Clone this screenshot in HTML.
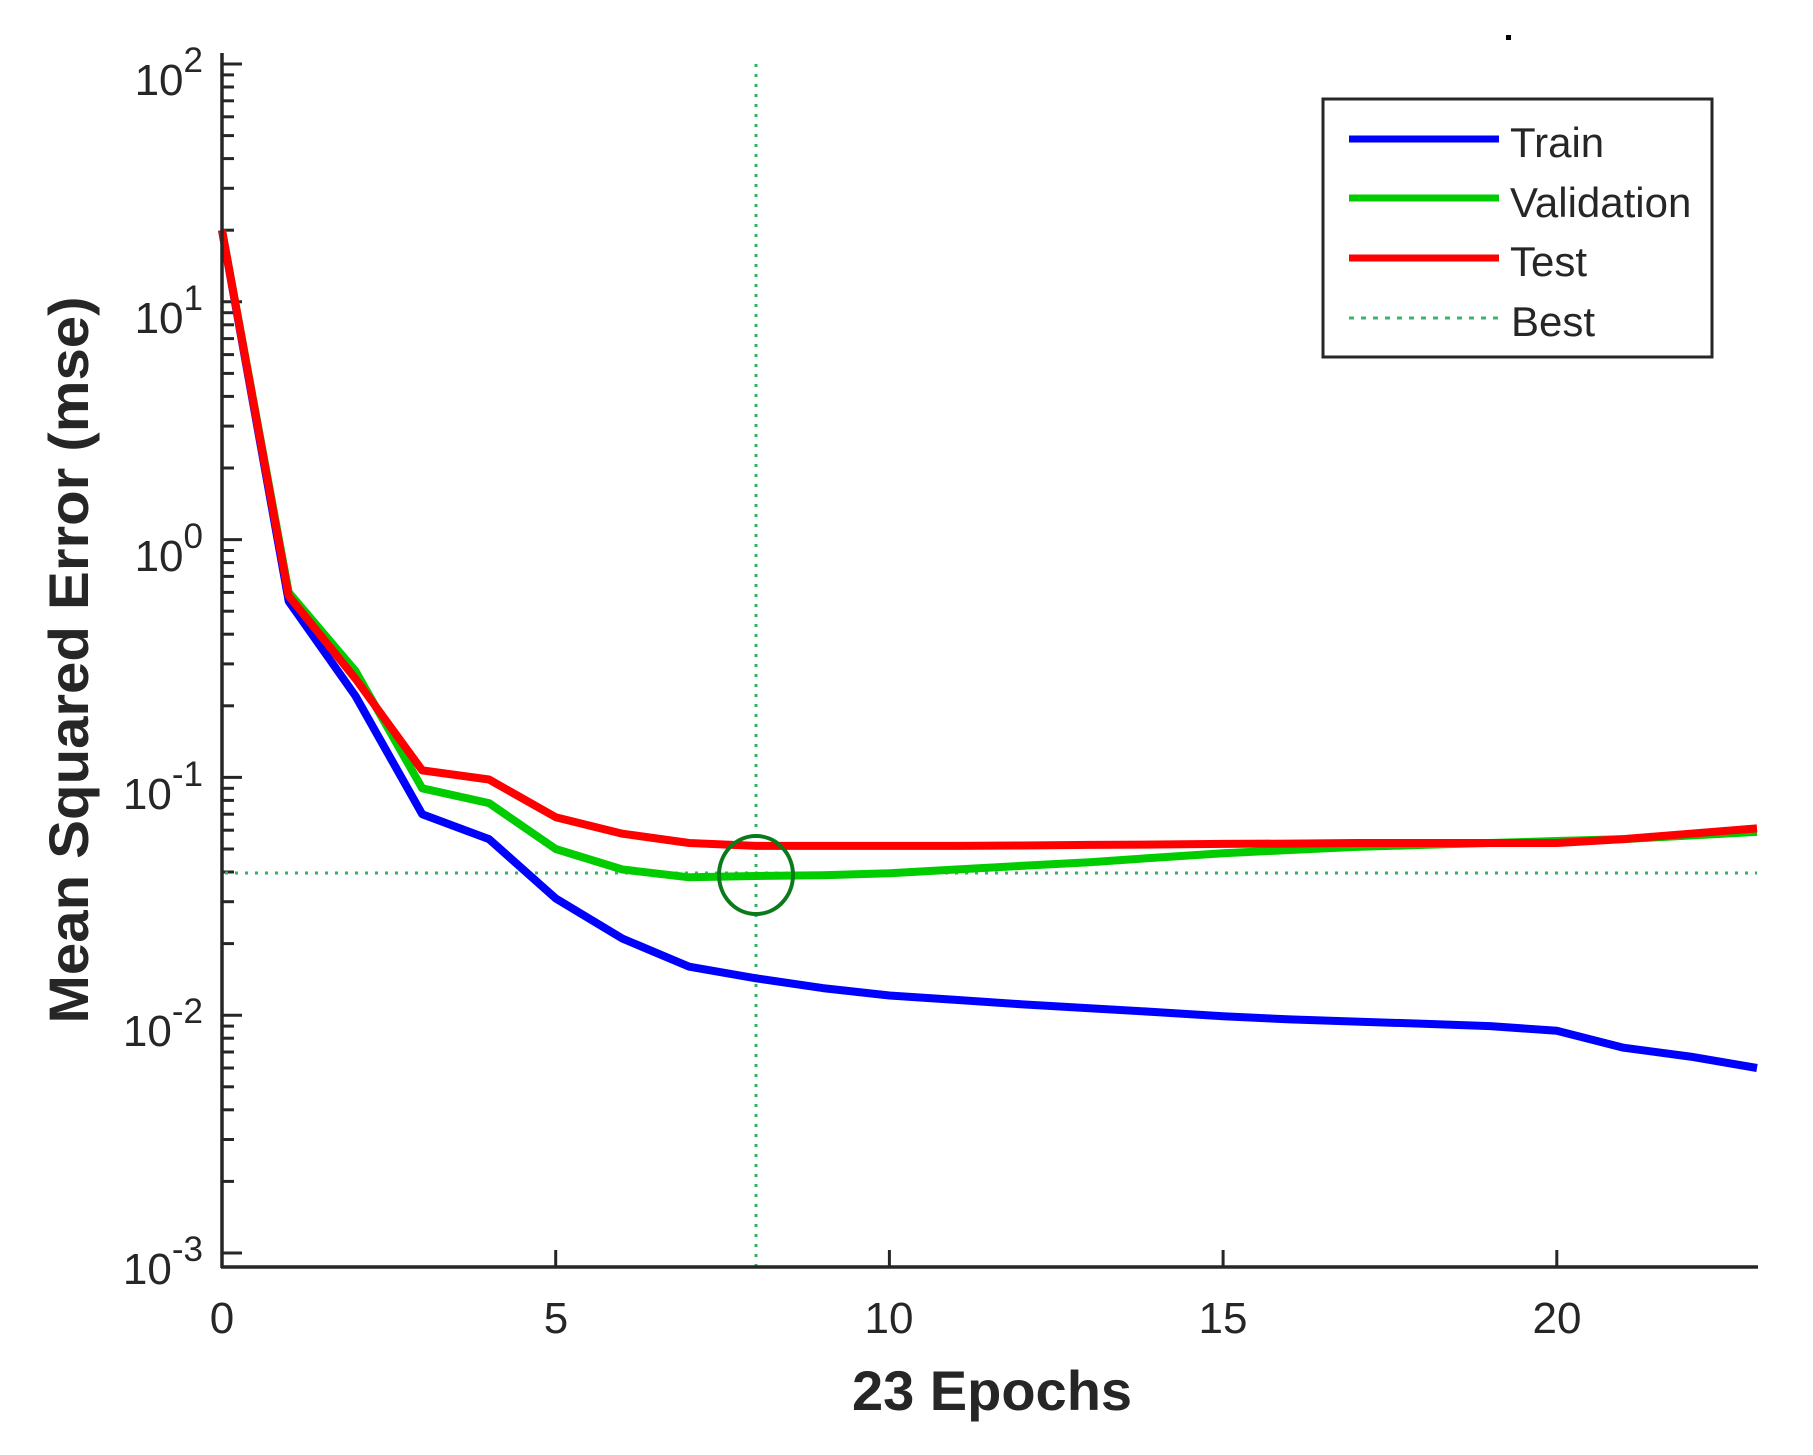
<!DOCTYPE html>
<html><head><meta charset="utf-8"><style>
html,body{margin:0;padding:0;background:#fff}
svg{display:block}
text{font-family:"Liberation Sans",Arial,sans-serif;fill:#262626}
</style></head><body>
<svg id="s" width="1813" height="1455" viewBox="0 0 1813 1455" xmlns="http://www.w3.org/2000/svg">
<rect width="1813" height="1455" fill="#fff"/>
<g id="ticks" stroke="#262626" stroke-width="3"></g>
<line x1="756" y1="64" x2="756" y2="1267" stroke="#2fb560" stroke-width="3" stroke-dasharray="3,7"/>
<line x1="225" y1="873" x2="1757" y2="873" stroke="#2fb560" stroke-width="3" stroke-dasharray="3,7"/>
<g id="lines" fill="none" stroke-width="8" stroke-linejoin="round"></g>
<ellipse cx="756" cy="875" rx="37" ry="39" fill="none" stroke="#0a7a1a" stroke-width="4"/>
<line x1="222" y1="53" x2="222" y2="1268" stroke="#262626" stroke-width="3.5"/>
<line x1="221" y1="1267" x2="1758" y2="1267" stroke="#262626" stroke-width="3.5"/>
<g font-size="44">
<text x="203" y="95" text-anchor="end">10<tspan font-size="35" dy="-23">2</tspan></text>
<text x="203" y="333" text-anchor="end">10<tspan font-size="35" dy="-23">1</tspan></text>
<text x="203" y="571" text-anchor="end">10<tspan font-size="35" dy="-23">0</tspan></text>
<text x="203" y="809" text-anchor="end">10<tspan font-size="35" dy="-23">-1</tspan></text>
<text x="203" y="1046" text-anchor="end">10<tspan font-size="35" dy="-23">-2</tspan></text>
<text x="203" y="1284" text-anchor="end">10<tspan font-size="35" dy="-23">-3</tspan></text>
</g>
<g font-size="44" text-anchor="middle">
<text x="222" y="1333">0</text>
<text x="556" y="1333">5</text>
<text x="889" y="1333">10</text>
<text x="1223" y="1333">15</text>
<text x="1557" y="1333">20</text>
</g>
<text x="992" y="1410" font-size="56" font-weight="bold" text-anchor="middle">23 Epochs</text>
<text transform="translate(88,660) rotate(-90)" font-size="56" font-weight="bold" text-anchor="middle" textLength="727" lengthAdjust="spacingAndGlyphs">Mean Squared Error  (mse)</text>
<rect x="1323" y="99" width="389" height="258" fill="#fff" stroke="#262626" stroke-width="3"/>
<line x1="1349" y1="139" x2="1499" y2="139" stroke="#0000ff" stroke-width="7"/>
<line x1="1349" y1="198" x2="1499" y2="198" stroke="#00cc00" stroke-width="7"/>
<line x1="1349" y1="258" x2="1499" y2="258" stroke="#ff0000" stroke-width="7"/>
<line x1="1349" y1="318" x2="1499" y2="318" stroke="#3cb371" stroke-width="3" stroke-dasharray="5,7"/>
<g font-size="42" style="fill:#111">
<text x="1510" y="157">Train</text>
<text x="1510" y="217">Validation</text>
<text x="1510" y="276">Test</text>
<text x="1511" y="336">Best</text>
</g>
<rect x="1506" y="35" width="5" height="5" fill="#000"/>
</svg>
<script>
(function(){
var X=function(e){return 222+e*66.74;};
var Y=function(v){return 1253-237.8*(Math.log10(v)+3);};
var t=document.getElementById('ticks'),h='';
for(var d=-3;d<=2;d++){
 for(var m=1;m<=9;m++){
  if(d==2&&m>1)break;
  var y=Y(m*Math.pow(10,d)),L=m==1?20:12;
  h+='<line x1="222" y1="'+y.toFixed(1)+'" x2="'+(222+L)+'" y2="'+y.toFixed(1)+'"/>';
 }
}
for(var e=0;e<=20;e+=5){h+='<line x1="'+X(e)+'" y1="1267" x2="'+X(e)+'" y2="1250"/>';}
t.innerHTML=h;
var tr=[20,0.55,0.22,0.07,0.055,0.031,0.021,0.016,0.0143,0.013,0.0121,0.0116,0.0111,0.0107,0.0103,0.0099,0.0096,0.0094,0.0092,0.009,0.0086,0.0073,0.0067,0.006];
var va=[20,0.6,0.28,0.09,0.078,0.05,0.041,0.038,0.0385,0.0388,0.0395,0.041,0.0425,0.044,0.046,0.048,0.0495,0.051,0.052,0.053,0.054,0.055,0.057,0.059];
var te=[20,0.58,0.26,0.107,0.098,0.068,0.058,0.053,0.0515,0.0515,0.0515,0.0515,0.0517,0.052,0.0522,0.0525,0.0527,0.053,0.053,0.053,0.053,0.055,0.058,0.061];
function p(a,c){var s='';for(var i=0;i<a.length;i++)s+=(i?'L':'M')+X(i).toFixed(1)+','+Y(a[i]).toFixed(1);return '<path d="'+s+'" stroke="'+c+'"/>';}
document.getElementById('lines').innerHTML=p(tr,'#0000ff')+p(va,'#00cc00')+p(te,'#ff0000');
})();
</script>
</body></html>
